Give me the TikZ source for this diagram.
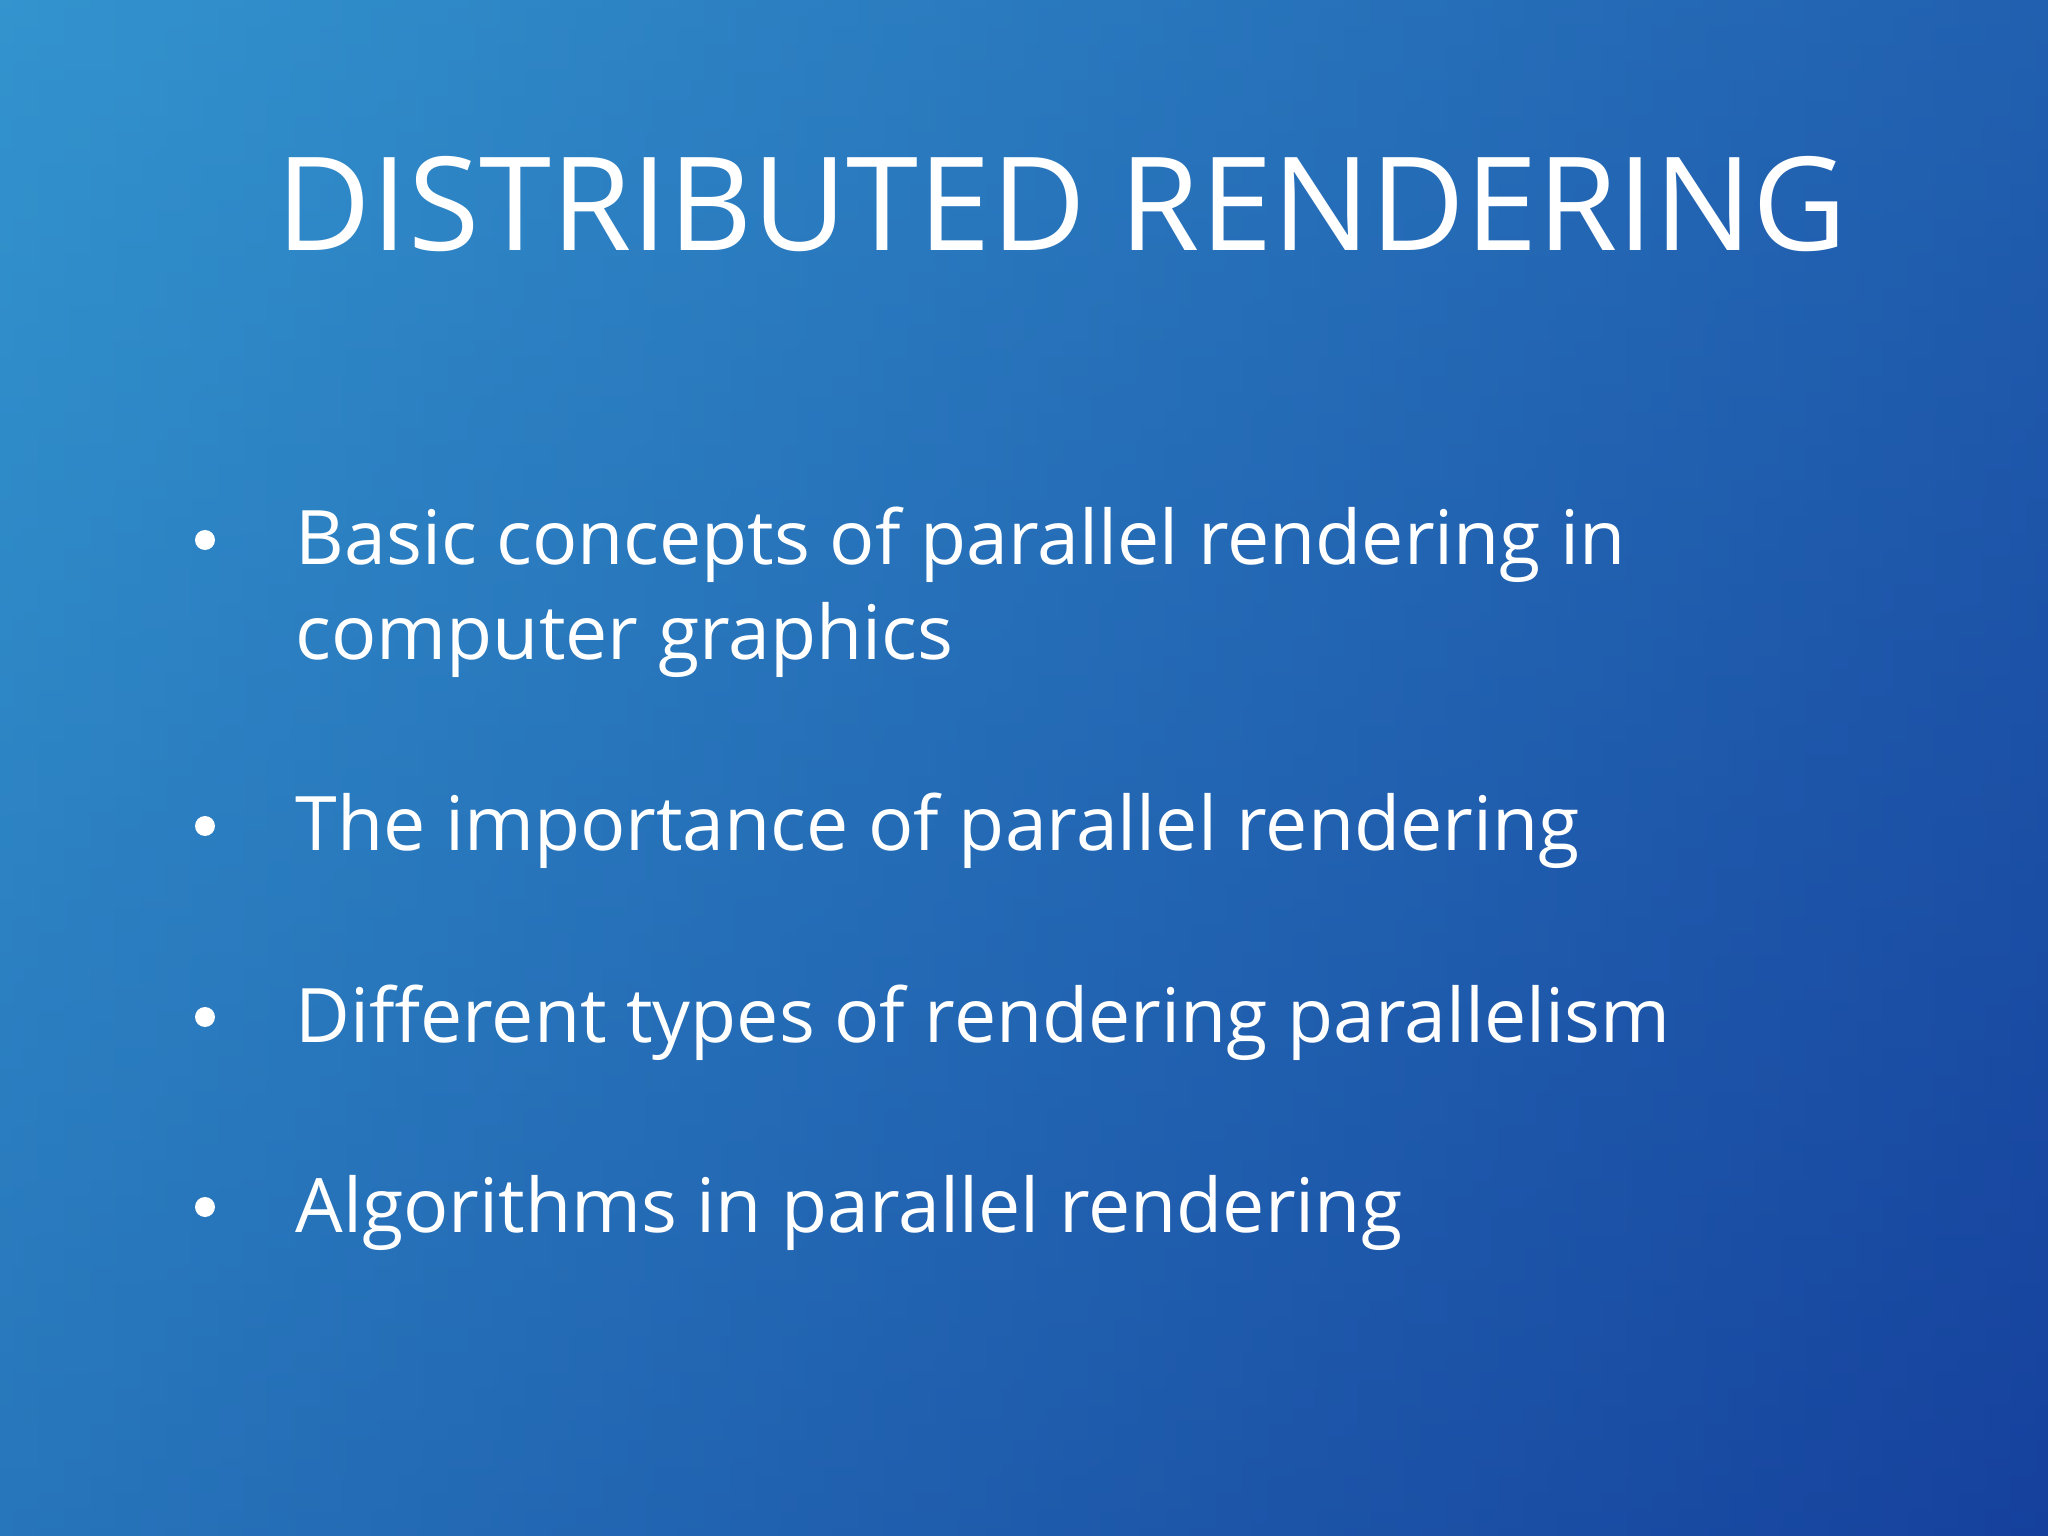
\documentclass[tikz,border=0pt]{standalone}
\usepackage{fontspec}
\setmainfont{Open Sans}
\begin{document}
\begin{tikzpicture}[x=1cm,y=-1cm,
  item/.style={anchor=base west,text=white,font=\fontsize{21.4pt}{26pt}\selectfont,inner sep=0pt},
  dot/.style={circle,fill=white,inner sep=0pt,minimum size=0.2cm}]
\definecolor{bgA}{HTML}{3394CE}
\definecolor{bgB}{HTML}{1844A0}
\definecolor{bgD}{HTML}{123C98}
\useasboundingbox (0,0) rectangle (20.48,15.36);
\shade[left color=bgA, right color=bgB] (0,0) rectangle (20.48,15.36);
\shade[top color=bgA, bottom color=bgD, opacity=0.35] (0,0) rectangle (20.48,15.36);
\node[anchor=base,text=white,font=\fontsize{37pt}{44pt}\selectfont,inner sep=0pt] (title) at (10.62,2.51) {DISTRIBUTED RENDERING};
\node[item] (b1) at (2.95,5.65) {Basic concepts of parallel rendering in};
\node[item] (b1b) at (2.95,6.60) {computer graphics};
\node[item] (b2) at (2.95,8.51) {The importance of parallel rendering};
\node[item] (b3) at (2.95,10.42) {Different types of rendering parallelism};
\node[item] (b4) at (2.95,12.32) {Algorithms in parallel rendering};
\node[dot] (d1) at (2.05,5.40) {};
\node[dot] (d2) at (2.05,8.26) {};
\node[dot] (d3) at (2.05,10.17) {};
\node[dot] (d4) at (2.05,12.07) {};
\end{tikzpicture}
\end{document}
